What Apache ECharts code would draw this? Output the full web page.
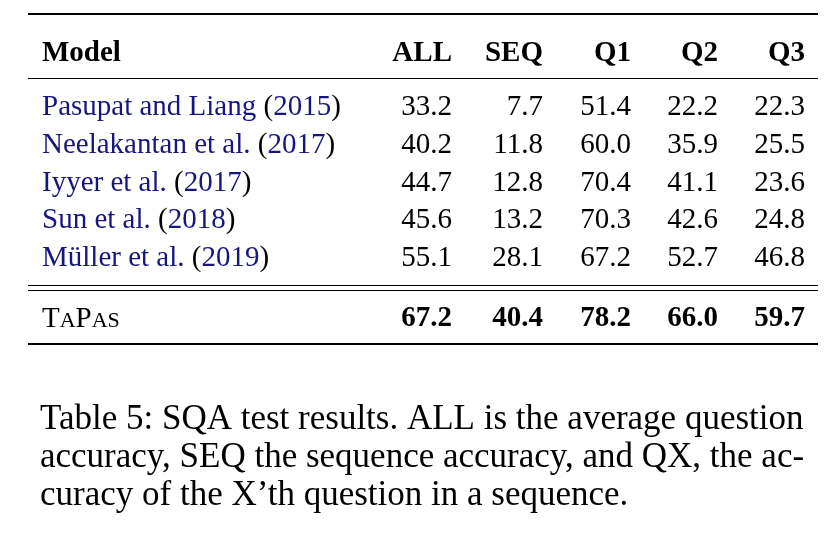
<!DOCTYPE html>
<html>
<head>
<meta charset="utf-8">
<script src="https://cdn.jsdelivr.net/npm/echarts@6/dist/echarts.min.js"></script>
<style>html,body{margin:0;padding:0;background:#fff}#main{width:838px;height:542px}</style>
</head>
<body>
<div id="main"></div>
<script>
// table data
var columns = ['ALL', 'SEQ', 'Q1', 'Q2', 'Q3'];
var models = ['Pasupat and Liang', 'Neelakantan et al.', 'Iyyer et al.', 'Sun et al.', 'Müller et al.'];
var years = ['2015', '2017', '2017', '2018', '2019'];
var values = [
    [33.2, 7.7, 51.4, 22.2, 22.3],
    [40.2, 11.8, 60.0, 35.9, 25.5],
    [44.7, 12.8, 70.4, 41.1, 23.6],
    [45.6, 13.2, 70.3, 42.6, 24.8],
    [55.1, 28.1, 67.2, 52.7, 46.8]
];
var tapasValues = [67.2, 40.4, 78.2, 66.0, 59.7];
var caption = [
    'Table 5: SQA test results. ALL is the average question',
    'accuracy, SEQ the sequence accuracy, and QX, the ac-',
    'curacy of the X\u2019th question in a sequence.'
];

// layout
var colRight = [452, 543, 631, 718, 805];
var modelX = 42;
var headerY = 54;
var rowY = [107, 145, 183, 220, 258];
var tapasY = 319;
var font = 'Liberation Serif';
var fs = 29;
var blue = '#16167e';

var myChart = echarts.init(document.getElementById('main'));

function txt(p) { return p.data.value ? p.data.value[2] : p.data[2]; }
var base = { type: 'scatter', symbolSize: 0, silent: true, itemStyle: { opacity: 1 } };

var series = [];
// header
series.push(Object.assign({}, base, {
    data: [{ value: [modelX, headerY, 'Model'], label: { align: 'left' } }]
        .concat(columns.map(function (c, i) { return [colRight[i], headerY, c]; })),
    label: { show: true, position: 'inside', align: 'right', fontFamily: font, fontSize: fs,
        fontWeight: 'bold', color: '#000', formatter: txt }
}));
// model names
series.push(Object.assign({}, base, {
    data: models.map(function (m, i) { return [modelX, rowY[i], i]; }),
    label: {
        show: true, position: 'inside', align: 'left', fontFamily: font, fontSize: fs,
        formatter: function (p) { var i = p.data[2]; return '{b|' + models[i] + ' }{k|(}{b|' + years[i] + '}{k|)}'; },
        rich: {
            b: { color: blue, fontFamily: font, fontSize: fs },
            k: { color: '#000', fontFamily: font, fontSize: fs }
        }
    }
}));
// numbers
var numData = [];
values.forEach(function (row, r) {
    row.forEach(function (v, c) { numData.push([colRight[c], rowY[r], v.toFixed(1)]); });
});
series.push(Object.assign({}, base, {
    data: numData,
    label: { show: true, position: 'inside', align: 'right', fontFamily: font, fontSize: fs, color: '#000', formatter: txt }
}));
// TaPas row
series.push(Object.assign({}, base, {
    data: [{ value: [modelX, tapasY, ''], label: { align: 'left', fontWeight: 'normal',
        formatter: '{a|T}{s|A}{a|P}{s|AS}',
        rich: { a: { fontFamily: font, fontSize: fs, fontWeight: 'normal', color: '#000' },
                s: { fontFamily: font, fontSize: 22, fontWeight: 'normal', color: '#000', padding: [4, 0, 0, 0] } } } }]
        .concat(tapasValues.map(function (v, c) { return [colRight[c], tapasY, v.toFixed(1)]; })),
    label: { show: true, position: 'inside', align: 'right', fontFamily: font, fontSize: fs, fontWeight: 'bold',
        color: '#000', formatter: txt }
}));

function hline(y, w) {
    return { type: 'line', shape: { x1: 28, y1: y, x2: 818, y2: y }, style: { stroke: '#000', lineWidth: w } };
}
var graphic = [hline(14, 2), hline(78.5, 1), hline(285.5, 1), hline(290.5, 1), hline(344, 2)];
caption.forEach(function (t, i) {
    graphic.push({ type: 'text', left: 40, top: 402 + i * 38,
        style: { text: t, font: '35px "Liberation Serif"', fill: '#000' } });
});

option = {
    animation: false,
    grid: { left: 0, right: 0, top: 0, bottom: 0 },
    xAxis: { type: 'value', min: 0, max: 838, show: false },
    yAxis: { type: 'value', min: 0, max: 542, inverse: true, show: false },
    series: series,
    graphic: graphic
};
myChart.setOption(option);
</script>
</body>
</html>
